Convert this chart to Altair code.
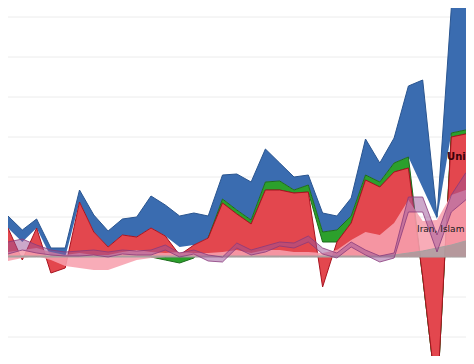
import altair as alt
import pandas as pd

years = list(range(1980, 2015))

blue_top = [9.25, 10.25, 6.75, 9.5, 2.25, 2.25, 16.75, 10.5, 6.5, 9.5, 10, 15.25, 13, 10.25, 11,
            10.25, 20.5, 20.75, 18.75, 27, 23.5, 20, 20.5, 11, 10.25, 14.75, 29.5, 23.5, 29.75,
            42.75, 44.25, 10, 62.25, 74.25, 76.75]
blue_base = [7.25, 7.25, 3.75, 7.25, 0, 0, 13.75, 6.25, 2.5, 5.5, 5, 7.25, 5.25, 2.5, 3,
             4.75, 14.5, 11.75, 9.25, 18.75, 19, 16.75, 18, 6.25, 6.75, 10.25, 20.5, 18.75, 23.5,
             25, 17.25, 9.5, 31, 31.75, 32.5]
red = [7.25, 7.25, -0.75, 7.25, -4, -2.75, 13.75, 6.25, 2.5, 5.5, 5, 7.25, 5.25, 0.5, 3,
       4.75, 13.5, 10.75, 8.25, 16.75, 16.75, 16, 16.25, -7.5, 3.75, 8.5, 19.25, 17.5, 21.25,
       22.25, -5, -35.75, 30, 30.75, 31.5]
green_lo = [None] * 11 + [0, 0, 0, 0, 4.75, 13.5, 10.75, 8.25, 16.75, 16.75, 16, 16.25, 3.75,
                          3.75, 8.5, 19.25, 17.5, 21.25, 22.25, -5, -35.75, 30, 30.75, 31.5]
green_hi = [None] * 11 + [0, -0.75, -1.5, -0.25, 4.75, 14.5, 11.75, 9.25, 18.75, 19, 16.75, 18,
                          6.25, 6.75, 10.25, 20.5, 18.75, 23.5, 25, -5, -35.75, 31, 31.75, 32.5]
purple_lo = [0.25, 0.75, 1.75, 1, 0.5, 0.25, 0.25, 0.5, 0, 0.75, 0.5, 0.5, 1.75, 0, 0.75, -1,
             -1.25, 2.25, 0.5, 1.25, 2.75, 2.25, 3.75, 0.75, -0.25, 2.5, 0.5, -1.25, -0.25,
             11.25, 11.25, 1.25, 11.25, 14.25, 14.75]
purple_hi = [4.25, 3.75, 4.5, 3, 1.75, 1.25, 1.5, 1.75, 1.25, 1.75, 1.5, 1.75, 3, 1, 1.75, 0.5,
             0, 3.5, 1.75, 2.75, 3.75, 3.5, 5.25, 2.25, 1, 3.75, 1.75, 0.25, 1, 15, 15, 5.5,
             15.5, 21, 21.75]
pink_lo = [-1.25, -1, -0.25, 0.25, -0.75, -2.25, -2.75, -3.25, -3.25, -2, -0.75, -0.25] + [0] * 23
pink_hi = [1.25, 1.25, 1.75, 2.25, 1.25, 0.5, 1, 0.5, 0.5, 1.25, 1.75, 1.25,
           1, 1.25, 1, 1, 1.25, 1.75, 1, 1.75, 1.75, 1.25, 1.25, 1, 1.75, 4.25, 6.25, 5.5, 8.5,
           14.25, 9, 9.25, 15.5, 16.75, 17.25]
gray = [0.25] * 28 + [0.5, 1, 1.5, 2.25, 3, 4, 4.75]
zeros = [0] * 35

grid_values = [-20, -10, 0, 10, 20, 30, 40, 50, 60]
labels = ["Uni", "Iran, Islam"]
label_year = [2011.70, 2009.60]
label_value = [25, 7]


def band(lo, hi):
    return pd.DataFrame({"year": years, "lo": lo, "hi": hi})


X = alt.X("year:Q", scale=alt.Scale(domain=[1981, 1981 + 458 / 14.3], nice=False, zero=False), axis=None)
YS = alt.Scale(domain=[-24.75, 62.25], nice=False, zero=False)


def area(df, fill, opacity=1.0, stroke=None, sw=1.0, so=1.0):
    kw = dict(clip=True, fill=fill, fillOpacity=opacity, interpolate="linear")
    if stroke:
        kw.update(stroke=stroke, strokeWidth=sw, strokeOpacity=so)
    else:
        kw.update(strokeWidth=0)
    return alt.Chart(df).mark_area(**kw).encode(
        x=X, y=alt.Y("hi:Q", scale=YS, axis=None), y2="lo:Q")


def edge(df, color, sw=1.0):
    return alt.Chart(df).mark_line(clip=True, color=color, strokeWidth=sw, interpolate="linear").encode(
        x=X, y=alt.Y("hi:Q", scale=YS, axis=None))


grid = alt.Chart(pd.DataFrame({"v": grid_values})).mark_rule(color="#ececec", strokeWidth=1).encode(
    y=alt.Y("v:Q", scale=YS, axis=None))

blue_df = band(blue_base, blue_top)
green_df = band(green_lo, green_hi)
red_df = band(zeros, red)
pink_df = band(pink_lo, pink_hi)
purple_df = band(purple_lo, purple_hi)
gray_df = band(zeros, gray)

lab_df = pd.DataFrame({"year": label_year, "v": label_value, "name": labels})

text_us = alt.Chart(lab_df.iloc[[0]]).mark_text(
    align="left", baseline="middle", fontSize=10, font="DejaVu Sans", fontWeight="bold",
    color="#3a0008").encode(x=X, y=alt.Y("v:Q", scale=YS, axis=None), text="name:N")
text_ir = alt.Chart(lab_df.iloc[[1]]).mark_text(
    align="left", baseline="middle", fontSize=9, font="DejaVu Sans", fontWeight="normal",
    color="#1a1a1a").encode(x=X, y=alt.Y("v:Q", scale=YS, axis=None), text="name:N")

chart = alt.layer(
    grid,
    area(blue_df, "#3a6cb0"),
    edge(blue_df, "#2a5590"),
    area(green_df, "#2ca02c", stroke="#1d6b1d"),
    area(red_df, "#e3474e"),
    edge(red_df, "#a8121f"),
    area(pink_df, "#f7a1ae", opacity=0.88),
    area(gray_df, "#9a9a9a", opacity=0.7, stroke="#a8a0a0"),
    area(purple_df, "#9a5296", opacity=0.5, stroke="#8a3b7c", so=0.8),
    text_us,
    text_ir,
).properties(
    width=458, height=348, padding=0, background="white",
    autosize=alt.AutoSizeParams(type="none")
).configure_view(stroke=None)

chart.save("out.html", embed_options={"renderer": "svg", "actions": False})
